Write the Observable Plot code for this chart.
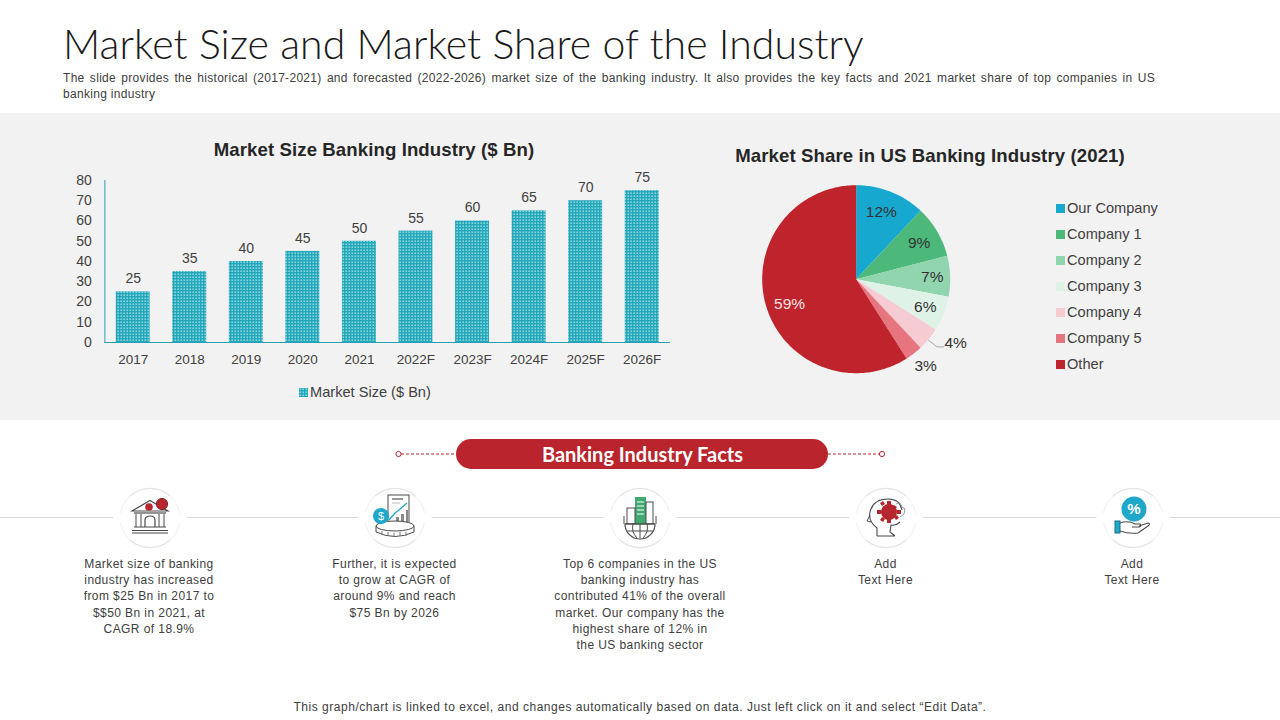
<!DOCTYPE html>
<html><head><meta charset="utf-8">
<script src="https://cdn.jsdelivr.net/npm/d3@7"></script>
<script src="https://cdn.jsdelivr.net/npm/@observablehq/plot@0.6"></script>
<style>
html,body{margin:0;padding:0;background:#fff;}
#page{position:relative;width:1280px;height:720px;overflow:hidden;font-family:"Liberation Sans",Arial,sans-serif;color:#404040;}
#page>*{position:absolute;}
.band{left:0;top:113px;width:1280px;height:307px;background:#f2f2f2;}
.title{left:63px;top:19px;font-family:Lato;font-weight:300;font-size:41px;line-height:50px;letter-spacing:.05px;color:#1a1a1a;white-space:nowrap;}
.sub{left:63px;width:1092px;font-size:12px;line-height:15.5px;color:#404040;letter-spacing:.3px;white-space:nowrap;}
.ct{font-weight:bold;font-size:18.6px;line-height:24px;color:#262626;white-space:nowrap;transform:translateX(-50%);letter-spacing:.1px;}
.leg{font-size:14.6px;line-height:18px;white-space:nowrap;color:#404040;}
.sw{display:inline-block;width:9px;height:9px;margin-right:2px;}
.pill{left:456px;top:439px;width:372px;height:30px;border-radius:15px;background:#b9242d;color:#fff;font-family:Lato;font-weight:700;font-size:20px;line-height:30px;text-align:center;text-indent:1px;}
.fact{width:220px;transform:translateX(-50%);text-align:center;font-size:12px;line-height:16.2px;top:556px;color:#404040;letter-spacing:.42px;}
.foot{left:0;width:1280px;top:699px;text-align:center;font-size:12px;line-height:16px;color:#404040;letter-spacing:.52px;}
svg{font-family:"Liberation Sans",Arial,sans-serif;}
</style></head><body>
<svg width="0" height="0" style="position:absolute"><defs>
<pattern id="dots" width="3" height="3" patternUnits="userSpaceOnUse">
<rect width="3" height="3" fill="#22a8ba"/><rect x="0.5" y="0.5" width="1.4" height="1.4" fill="#a8e0e6"/>
</pattern></defs></svg>
<div id="page">
<div class="band"></div>
<div class="title">Market Size and Market Share of the Industry</div>
<div class="sub" style="top:71px;text-align:justify;text-align-last:justify;white-space:normal">The slide provides the historical (2017-2021) and forecasted (2022-2026) market size of the banking industry. It also provides the key facts and 2021 market share of top companies in US</div>
<div class="sub" style="top:86.5px">banking industry</div>
<div class="ct" style="left:374px;top:138px">Market Size Banking Industry ($ Bn)</div>
<div class="ct" style="left:930px;top:144px">Market Share in US Banking Industry (2021)</div>
<div class="leg" style="left:299px;top:383px"><svg width="9" height="9" style="margin-right:2px"><rect width="9" height="9" fill="url(#dots)"/></svg>Market Size ($ Bn)</div>
<div id="bars" style="left:60px;top:165px"></div>
<div id="pie" style="left:740px;top:170px"></div>
<div id="legend" style="left:1056px;top:0"></div>
<svg id="deco" width="1280" height="720" style="left:0;top:0;pointer-events:none"></svg>
<div class="pill">Banking Industry Facts</div>
<div id="facts"></div>
<div class="foot">This graph/chart is linked to excel, and changes automatically based on data. Just left click on it and select “Edit Data”.</div>
</div>
<script>
const years = ["2017","2018","2019","2020","2021","2022F","2023F","2024F","2025F","2026F"];
const marketSize = [25,35,40,45,50,55,60,65,70,75];
const yTicks = [0,10,20,30,40,50,60,70,80];
const companies = ["Our Company","Company 1","Company 2","Company 3","Company 4","Company 5","Other"];
const shares = [12,9,7,6,4,3,59];
const shareColors = ["#17a8cf","#4cb97b","#90d5ae","#dff2e8","#f6cbd1","#e6757f","#bf232b"];
const facts = [
 ["Market size of banking","industry has increased","from $25 Bn in 2017 to","$$50 Bn in 2021, at","CAGR of 18.9%"],
 ["Further, it is expected","to grow at CAGR of","around 9% and reach","$75 Bn by 2026"],
 ["Top 6 companies in the US","banking industry has","contributed 41% of the overall","market. Our company has the","highest share of 12% in","the US banking sector"],
 ["Add","Text Here"],
 ["Add","Text Here"]
];
const factCenters = [149,394.5,640,885.5,1132];

// Bar chart
const barRows = years.map((year,i)=>({year,value:marketSize[i]}));
const axisColor = "#2a9fb3", textColor = "#404040";
document.getElementById("bars").append(Plot.plot({
  width:620,height:210,marginLeft:44.4,marginRight:10,marginTop:15,marginBottom:33,
  style:{background:"transparent",fontFamily:"Liberation Sans, Arial, sans-serif",color:textColor,overflow:"visible"},
  x:{domain:years,paddingInner:0.4,paddingOuter:0.2,round:false,label:null},
  y:{domain:[0,80],label:null},
  marks:[
    Plot.barY(barRows,{x:"year",y:"value",fill:"url(#dots)"}),
    Plot.frame({anchor:"left",stroke:axisColor}),
    Plot.ruleY([0],{stroke:axisColor}),
    Plot.axisY({ticks:yTicks,tickSize:0,tickPadding:13,fontSize:14,label:null,color:textColor}),
    Plot.axisX({tickSize:0,tickPadding:11.5,fontSize:13.5,label:null,color:textColor}),
    Plot.text(barRows,{x:"year",y:"value",text:d=>String(d.value),dy:-13,fontSize:14,fill:textColor})
  ]
}));

// Pie chart
const arcs = d3.pie().sort(null)(shares);
const toXY = (a,r=1)=>[r*Math.sin(a),-r*Math.cos(a)];
const sliceFeatures = arcs.map((a,i)=>{
  const ring=[[0,0]];
  const steps=Math.max(2,Math.ceil((a.endAngle-a.startAngle)*180/Math.PI));
  for(let k=0;k<=steps;k++) ring.push(toXY(a.startAngle+(a.endAngle-a.startAngle)*k/steps));
  ring.push([0,0]);
  return {type:"Feature",properties:{name:companies[i]},geometry:{type:"Polygon",coordinates:[ring]}};
});
const labelRadius = [0.76,0.77,0.81,0.79,1.255,1.18,0.755];
const labelShift = [-1,1,0,0,-7,-1,-4];
const pieLabels = arcs.map((a,i)=>{
  const [x,y]=toXY((a.startAngle+a.endAngle)/2+labelShift[i]*Math.PI/180,labelRadius[i]);
  return {x,y,text:shares[i]+"%",light:i===6};
});
const leader4 = {type:"LineString",coordinates:[[0.77,0.65],[0.86,0.72],[0.93,0.72]]};
document.getElementById("pie").append(Plot.plot({
  width:240,height:220,margin:0,
  style:{background:"transparent",fontFamily:"Liberation Sans, Arial, sans-serif",overflow:"visible"},
  projection:d3.geoIdentity().scale(94).translate([115.7,108.7]),
  color:{domain:companies,range:shareColors},
  marks:[
    Plot.geo(sliceFeatures,{fill:d=>d.properties.name}),
    Plot.geo([leader4],{fill:"none",stroke:"#a6a6a6",strokeWidth:1}),
    Plot.text(pieLabels.filter(d=>!d.light),{x:"x",y:"y",text:"text",fontSize:15.5,fill:"#333"}),
    Plot.text(pieLabels.filter(d=>d.light),{x:"x",y:"y",text:"text",fontSize:15.5,fill:"#f7e3e3"})
  ]
}));

// Pie legend
const legendEl=document.getElementById("legend");
companies.forEach((c,i)=>{
  const d=document.createElement("div");
  d.className="leg";d.style.cssText=`position:absolute;left:0;top:${199+26*i}px`;
  d.innerHTML=`<span class="sw" style="background:${shareColors[i]}"></span>${c}`;
  legendEl.append(d);
});

// Fact text
const factsEl=document.getElementById("facts");
facts.forEach((lines,i)=>{
  const d=document.createElement("div");
  d.className="fact";d.style.cssText=`position:absolute;left:${factCenters[i]}px`;
  d.innerHTML=lines.join("<br>");
  factsEl.append(d);
});

// Decoration: timeline line, rings, icons, connector
const iconCenters=[150,395,640,886,1133];
const gray="#4a4a4a",red="#b5262e",blue="#1fa8c9",green="#3fa970";
const L=(a,b,c,d,s=gray,w=1)=>`<line x1="${a}" y1="${b}" x2="${c}" y2="${d}" stroke="${s}" stroke-width="${w}"/>`;
const icons=[
 // bank
 `<path d="M-18,-7 L0,-17.5 L18,-7 Z" fill="none" stroke="${gray}" stroke-width="1.2"/>
  ${L(-16,-5,16,-5,gray,1.2)}<circle cx="-1" cy="-11" r="3.8" fill="${red}"/><circle cx="12" cy="-14" r="5.6" fill="${red}" stroke="#8c1d24"/>
  <path d="M-14,-4V9M-9,-4V9M9,-4V9M14,-4V9M-16,9H16M-18,12.5H18M-18,15H18" fill="none" stroke="${gray}"/>
  <path d="M-5,9V2Q-5,-2 0,-2Q5,-2 5,2V9" fill="none" stroke="${gray}" stroke-width="1.2"/>`,
 // report and coin
 `<rect x="-7" y="-23" width="21" height="28" fill="#fff" stroke="${gray}"/>
  ${L(-3,-19,8,-19,"#999",2)}${L(-3,-15,5,-15,"#bbb",1)}
  <path d="M-6,2 L0,-5 L4,-8 L12,-15" fill="none" stroke="${blue}" stroke-width="1.3"/>
  <path d="M1,-1h3v6h-3zM6,-4h3v9h-3zM11,-8h2v13h-2z" fill="#8a8a8a"/>
  <ellipse cx="0" cy="8" rx="19" ry="5" fill="#fff" stroke="${gray}"/><path d="M-19,8v6q19,9 38,0v-6" fill="none" stroke="${gray}"/>
  <path d="M-13,13v4M-7,14v4M-1,15v4M5,14v4M11,14v4" stroke="#777"/>
  <circle cx="-14" cy="-2" r="8" fill="${blue}"/><text x="-14" y="2" font-size="11" fill="#fff" text-anchor="middle">$</text>`,
 // buildings & globe
 `<rect x="-5" y="-21" width="11" height="27" fill="${green}"/>
  ${L(-3,-16,4,-16,"#fff")}${L(-3,-12,4,-12,"#fff")}${L(-3,-8,4,-8,"#fff")}${L(-3,-4,4,-4,"#fff")}
  <rect x="6" y="-16" width="7" height="22" fill="#fff" stroke="${gray}"/><rect x="-13" y="-10" width="8" height="16" fill="#fff" stroke="${gray}"/>
  <path d="M-15,6A15,15 0 1,0 15,6Z" fill="#fff" stroke="${gray}" stroke-width="1.2"/>
  <path d="M-15,6H15M-13,13H13M0,6V20M-7,6Q-9,14 -3,20M7,6Q9,14 3,20" fill="none" stroke="${gray}"/>
  <path d="M-16,6V-2M16,6V-2" stroke="${gray}"/>`,
 // head with gear
 `<path d="M-9,18 L-9,10 Q-18,3 -16,-6 Q-13,-19 2,-19 Q14,-19 16,-8 M14,4 Q10,8 5,7 L4,14 L9,18 M-9,18H9" fill="none" stroke="${gray}" stroke-width="1.1"/>
  <path d="M-16,-3 L-19,3 L-15,4" fill="none" stroke="${gray}"/>
  <g fill="${red}"><circle cx="3" cy="-6" r="8"/>
   <path d="M1,-17h4v4h-4zM1,1h4v4h-4zM-9,-8h4v4h-4zM11,-8h4v4h-4zM-6,-15l3,-2l2,3l-3,2zM8,-1l3,-2l2,3l-3,2zM8,-13l3,2l-2,3l-3,-2zM-6,2l3,2l2,-3l-3,-2z"/></g>
  <path d="M10,-14l4,-1l2,4l3,2l-1,5l-4,3" fill="none" stroke="#999"/>`,
 // hand with percent
 `<circle cx="1" cy="-9" r="12.5" fill="${blue}"/>
  <text x="1" y="-4" font-size="15" font-weight="bold" fill="#fff" text-anchor="middle">%</text>
  <rect x="-18" y="3" width="5" height="12" fill="${blue}" stroke="#14708a"/>
  <path d="M-13,5 Q-5,2 2,6 H7 Q9,8 6,9 H-1 M6,8 L15,5 Q18,6 15,8 L5,15 Q-4,16 -13,13" fill="none" stroke="${gray}" stroke-width="1.1"/>`
];
let deco=`<line x1="0" y1="517.5" x2="1280" y2="517.5" stroke="#d9d9d9"/>`;
iconCenters.forEach((cx,i)=>{
  deco+=`<g transform="translate(${cx},518)"><circle r="37" fill="#fff"/>
   <path d="M-20,-22A30,30 0 0,1 20,-22M-20,22A30,30 0 0,0 20,22" fill="none" stroke="#e3e3e3" stroke-width="1.2"/>
   <path d="M-20,-22A30,30 0 0,0 -29.5,-5M-20,22A30,30 0 0,1 -29.5,5M20,-22A30,30 0 0,1 29.5,-5M20,22A30,30 0 0,0 29.5,5" fill="none" stroke="#eeeeee" stroke-width="1"/>
   ${icons[i]}</g>`;
});
deco+=`<line x1="401" y1="454" x2="456" y2="454" stroke="${red}" stroke-dasharray="3 2"/>
<line x1="828" y1="454" x2="879" y2="454" stroke="${red}" stroke-dasharray="3 2"/>
<circle cx="398.5" cy="454" r="2.6" fill="#fff" stroke="${red}"/><circle cx="882" cy="454" r="2.6" fill="#fff" stroke="${red}"/>`;
document.getElementById("deco").innerHTML=deco;
</script>
</body></html>
